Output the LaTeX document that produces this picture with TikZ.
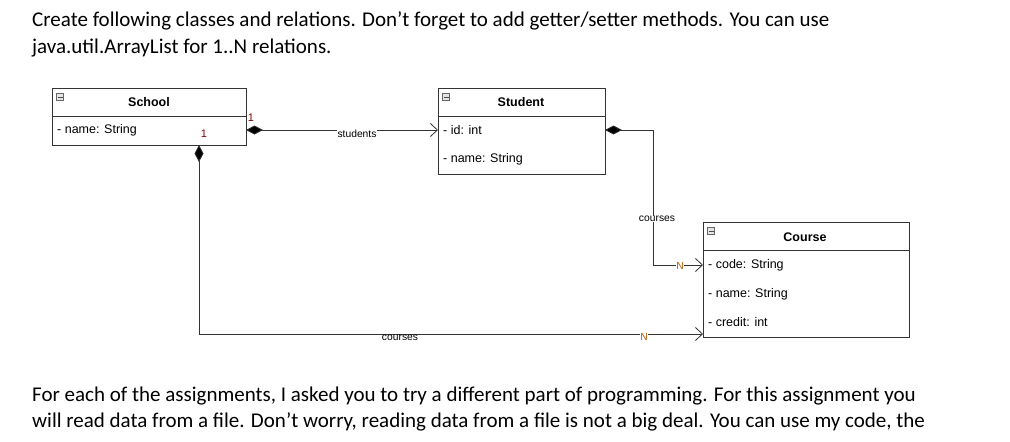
\documentclass[tikz,border=0pt]{standalone}
\usepackage{fontspec}
\setmainfont{Carlito}
\newfontfamily\umlfont{Liberation Sans}
\usetikzlibrary{arrows.meta}

\tikzset{
  umlbox/.style={draw=black!80, line width=0.8pt, fill=white},
  umltext/.style={font=\umlfont\fontsize{12.5}{14}\selectfont, anchor=west, inner sep=1pt},
  umltitle/.style={font=\umlfont\bfseries\fontsize{12.5}{14}\selectfont, inner sep=1pt},
  mult/.style={font=\umlfont\fontsize{11}{12}\selectfont, text=red!50!black, inner sep=1pt},
  linklabel/.style={font=\umlfont\fontsize{10.3}{11}\selectfont, fill=white, inner sep=0.5pt},
  assoc/.style={draw=black!80, line width=0.8pt,
    {Diamond[length=17pt,width=9pt,fill=black]}-{Straight Barb[length=7pt,width=13pt]}},
  collapse/.style={draw=black!60, fill=black!10, minimum size=7pt, inner sep=0pt},
  bodytext/.style={anchor=west, font=\fontsize{21}{24}\selectfont, inner sep=0pt}
}

\newcommand{\umlclass}[4]{% x1, y1, x2, y2 (header bottom at y1+28)
  \draw[umlbox] (#1,#2) rectangle (#3,#4);
  \draw[umlbox] (#1,#2+28) -- (#3,#2+28);
  \node[collapse] at (#1+8,#2+9) {};
  \draw[black!70, line width=0.5pt] (#1+5.5,#2+9) -- (#1+10.5,#2+9);
}

\begin{document}
\begin{tikzpicture}[x=1pt, y=-1pt]
\useasboundingbox (0,0) rectangle (1010,442);

\node[bodytext] (intro1) at (32,21)
  {Create following classes and relations. Don’t forget to add getter/setter methods. You can use};
\node[bodytext] (intro2) at (32,48)
  {java.util.ArrayList for 1..N relations.};

% classes
\umlclass{52}{88}{246}{145}
\node[umltitle] (school) at (149,102) {School};
\node[umltext] (schoolname) at (56,130) {- name: String};

\umlclass{438}{88}{605}{174}
\node[umltitle] (student) at (521,102) {Student};
\node[umltext] (studentid) at (442,130) {- id: int};
\node[umltext] (studentname) at (442,159) {- name: String};

\umlclass{703}{222}{909}{337}
\node[umltitle] (course) at (805,237) {Course};
\node[umltext] (coursecode) at (707,265) {- code: String};
\node[umltext] (coursename) at (707,294) {- name: String};
\node[umltext] (coursecredit) at (707,322) {- credit: int};

\coordinate (schoolright) at (246,130);
\coordinate (studentleft) at (438,130);
\coordinate (schoolbottom) at (199,145);
\coordinate (studentright) at (605,130);
\coordinate (courseleftA) at (703,265);
\coordinate (courseleftB) at (703,334);

% relations
\draw[assoc] (schoolright) -- (studentleft);
\node[linklabel] at (357,134) {students};
\node[mult] at (251,118) {1};
\node[mult] at (204,134) {1};

\draw[assoc] (schoolbottom) |- (courseleftB);
\node[linklabel] at (400,338) {courses};
\node[linklabel, text=orange!70!black] at (644,337) {N};

\draw[assoc] (studentright) -- (653,130) |- (courseleftA);
\node[linklabel] at (657,219) {courses};
\node[linklabel, text=orange!70!black] at (680,266) {N};

\node[bodytext] (outro1) at (32,396)
  {For each of the assignments, I asked you to try a different part of programming. For this assignment you};
\node[bodytext] (outro2) at (32,422)
  {will read data from a file. Don't worry, reading data from a file is not a big deal. You can use my code, the};
\end{tikzpicture}
\end{document}
